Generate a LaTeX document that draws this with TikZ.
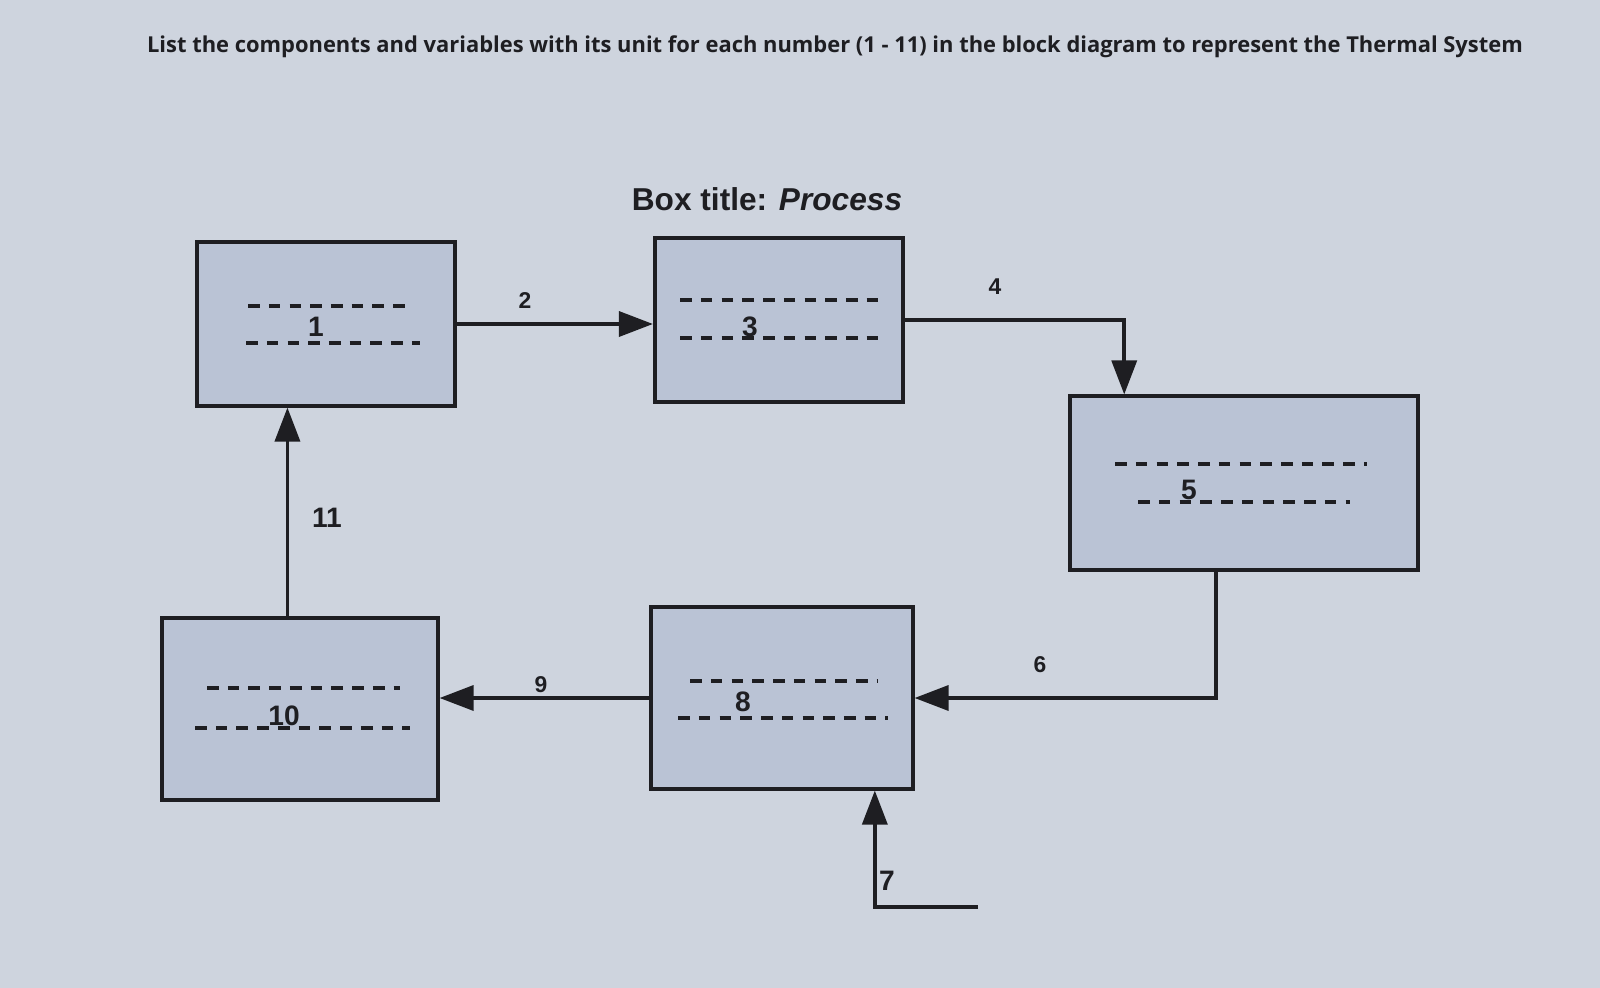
\documentclass[tikz,border=0pt]{standalone}
\definecolor{screenbg}{RGB}{206,212,222}
\definecolor{boxfill}{RGB}{186,195,213}
\definecolor{inkdark}{RGB}{30,30,34}
\usepackage{fontspec}
\setmainfont{Liberation Sans}
\newfontfamily\questionfont{Open Sans}
\usepackage{tikz}
\usepackage{xcolor}
\usetikzlibrary{shapes,arrows,arrows.meta,positioning,calc,fit,backgrounds}

\tikzset{
  block/.style={draw=inkdark, line width=1.15pt, fill=boxfill, inner sep=0pt},
  flow/.style={draw=inkdark, line width=1pt, -{Triangle[length=3.4mm,width=2.5mm]}},
  blank/.style={draw=inkdark, line width=1.1pt, dash pattern=on 3.3pt off 2.6pt},
  numtag/.style={font=\bfseries\fontsize{8}{9}\selectfont, text=inkdark, inner sep=0.5pt},
  flowtag/.style={font=\bfseries\fontsize{6.5}{7}\selectfont, text=inkdark, inner sep=0.5pt}
}

\begin{document}
\begin{tikzpicture}[x=0.01cm, y=-0.01cm]
                % Frame
                \fill[screenbg] (0,0) rectangle (1600,988);
                \useasboundingbox (0,0) rectangle (1600,988);

                % Question
                \node[text=inkdark] (question) at (835,47)
                  {\resizebox{13.75cm}{!}{\questionfont\bfseries List the components and variables with its unit for each number (1 - 11) in the block diagram to represent the Thermal System}};

                % Blocks
                \node[block, minimum width=2.57cm, minimum height=1.63cm] (b1) at (326,324) {};
                \node[block, minimum width=2.48cm, minimum height=1.64cm] (b3) at (779,320) {};
                \node[block, minimum width=3.48cm, minimum height=1.73cm] (b5) at (1244,483) {};
                \node[block, minimum width=2.61cm, minimum height=1.81cm] (b8) at (782,698) {};
                \node[block, minimum width=2.75cm, minimum height=1.82cm] (b10) at (300,709) {};

                \node[font=\bfseries\fontsize{9}{11}\selectfont, text=inkdark, above=0.13cm of b3, xshift=-0.12cm] (boxtitle)
                  {Box title: \textit{Process}};

                % Blanks inside the blocks
                \draw[blank] (248,306) -- (412,306);
                \draw[blank] (246,343) -- (420,343);
                \node[numtag] (n1) at (316,327) {1};

                \draw[blank] (680,300) -- (882,300);
                \draw[blank] (680,338) -- (882,338);
                \node[numtag] (n3) at (750,327) {3};

                \draw[blank] (1115,464) -- (1367,464);
                \draw[blank] (1138,502) -- (1350,502);
                \node[numtag] (n5) at (1189,490) {5};

                \draw[blank] (690,681) -- (878,681);
                \draw[blank] (678,718) -- (888,718);
                \node[numtag] (n8) at (743,702) {8};

                \draw[blank] (207,688) -- (400,688);
                \draw[blank] (195,728) -- (410,728);
                \node[numtag] (n10) at (284,716) {10};

                % Connectors
                \draw[flow] (b1.east) -- (b1.east -| b3.west);
                \node[flowtag] (l2) at (525,301) {2};

                \coordinate (in5) at ($(b5.north west)!0.16!(b5.north east)$);
                \draw[flow] (b3.east) -| (in5);
                \node[flowtag] (l4) at (995,287) {4};

                \coordinate (out5) at ($(b5.south west)!0.42!(b5.south east)$);
                \draw[flow] (out5) |- (b8.east);
                \node[flowtag] (l6) at (1040,665) {6};

                \draw[flow] (b8.west) -- (b8.west -| b10.east);
                \node[flowtag] (l9) at (541,685) {9};

                \coordinate (out10) at ($(b10.north west)!0.455!(b10.north east)$);
                \draw[flow] (out10) -- (out10 |- b1.south);
                \node[numtag] (l11) at (327,518) {11};

                \coordinate (src7) at (978,907);
                \coordinate (in8) at ($(b8.south west)!0.85!(b8.south east)$);
                \draw[flow] (src7) -| (in8);
                \node[numtag] (l7) at (887,881) {7};
            \end{tikzpicture}
\end{document}
